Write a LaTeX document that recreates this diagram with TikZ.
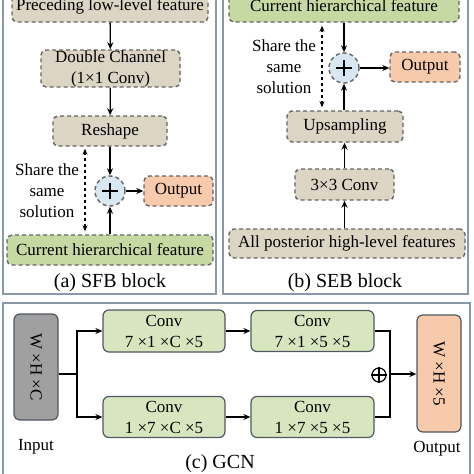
\documentclass[tikz,border=0pt]{standalone}
\usepackage{fontspec}
\setmainfont{Liberation Serif}
\usetikzlibrary{arrows.meta}
\definecolor{beige}{RGB}{221,213,196}
\definecolor{leaf}{RGB}{198,217,163}
\definecolor{salmon}{RGB}{248,202,172}
\definecolor{pale}{RGB}{216,232,242}
\definecolor{dashgray}{RGB}{100,100,100}
\definecolor{frame}{RGB}{138,152,172}
\definecolor{convgreen}{RGB}{216,230,192}
\definecolor{inpgray}{RGB}{160,160,160}
\definecolor{edgedark}{RGB}{80,88,96}
\tikzset{
  txt/.style={font=\fontsize{17}{21}\selectfont, align=center, inner sep=0pt},
  dbox/.style={txt, draw=dashgray, line width=1.4pt, dash pattern=on 4pt off 3pt, rounded corners=5pt},
  beigebox/.style={dbox, fill=beige},
  greenbox/.style={dbox, fill=leaf},
  outbox/.style={dbox, fill=salmon},
  sumnode/.style={circle, draw=dashgray, fill=pale, line width=1.4pt, dash pattern=on 4pt off 3pt, minimum size=30pt, inner sep=0pt},
  plusbar/.style={line width=1.6pt},
  sbox/.style={txt, draw=edgedark, line width=1.2pt, rounded corners=6pt},
  arr/.style={line width=1.3pt, -{Stealth[length=7pt,width=6pt]}},
  darr/.style={line width=1.2pt, dashed, {Stealth[length=6pt,width=5pt]}-{Stealth[length=6pt,width=5pt]}},
  plainline/.style={line width=1.3pt},
  panel/.style={draw=frame, line width=1.5pt},
  captext/.style={font=\fontsize{20}{24}\selectfont, inner sep=0pt},
}
\begin{document}
\begin{tikzpicture}[x=1pt,y=-1pt]
\useasboundingbox (0,0) rectangle (474,474);
\fill[white] (0,0) rectangle (474,474);
% panels
\draw[panel] (3,-5) rectangle (216,294);
\draw[panel] (223,-5) rectangle (468,294);
\draw[panel] (3,303) rectangle (470,480);

% ---------- (a) SFB ----------
\node[beigebox, minimum width=196pt, minimum height=32pt] (pre) at (110,6) {\raisebox{-4pt}{Preceding low-level feature}};
\node[beigebox, minimum width=139pt, minimum height=37pt] (dc) at (110.5,68.5) {Double Channel\\(1×1 Conv)};
\node[beigebox, minimum width=114pt, minimum height=30pt] (rs) at (110,131) {Reshape};
\node[sumnode] (sa) at (110,191) {};
\draw[plusbar] ([xshift=-8pt]sa.center) -- ([xshift=8pt]sa.center) ([yshift=-8pt]sa.center) -- ([yshift=8pt]sa.center);
\node[outbox, minimum width=69pt, minimum height=30pt] (oa) at (178.5,191) {Output};
\node[greenbox, minimum width=206pt, minimum height=30pt] (ca) at (110,250) {Current hierarchical feature};
\node[txt] (sha) at (47,191) {Share the\\same\\solution};
\coordinate (xa) at (85,0);
\coordinate (dat) at (rs.south -| xa);
\coordinate (dab) at (ca.north -| xa);
\draw[arr] (pre) -- (dc);
\draw[arr] (dc) -- (rs);
\draw[arr] (rs) -- (sa);
\draw[arr] (ca) -- (sa);
\draw[arr] (sa) -- (oa);
\draw[darr] ([yshift=-2pt]dat) -- ([yshift=3pt]dab);
\node[captext] (capa) at (110,283) {(a) SFB block};

% ---------- (b) SEB ----------
\node[greenbox, minimum width=230pt, minimum height=32pt] (cb) at (344,6) {\raisebox{-3pt}{Current hierarchical feature}};
\node[sumnode] (sb) at (344,68) {};
\draw[plusbar] ([xshift=-8pt]sb.center) -- ([xshift=8pt]sb.center) ([yshift=-8pt]sb.center) -- ([yshift=8pt]sb.center);
\node[outbox, minimum width=70pt, minimum height=30pt] (ob) at (425,67) {Output};
\node[beigebox, minimum width=116pt, minimum height=31pt] (up) at (345,126.5) {Upsampling};
\node[beigebox, minimum width=99pt, minimum height=31pt] (c33) at (344.5,184.5) {3×3 Conv};
\node[beigebox, minimum width=236pt, minimum height=29pt] (ap) at (347,243.5) {All posterior high-level features};
\node[txt] (shb) at (284,67) {Share the\\same\\solution};
\coordinate (xb) at (322,0);
\coordinate (dbt) at (cb.south -| xb);
\coordinate (dbb) at (up.north -| xb);
\draw[arr] (cb.south -| sb) -- (sb);
\draw[arr] (up.north -| sb) -- (sb);
\draw[arr] (sb) -- (sb -| ob.west);
\draw[arr] (c33) -- (c33 |- up.south);
\draw[arr] (ap.north -| c33) -- (c33);
\draw[darr] ([yshift=-3pt]dbt) -- ([yshift=3pt]dbb);
\node[captext] (capb) at (345,283) {(b) SEB block};

% ---------- (c) GCN ----------
\node[sbox, fill=inpgray, minimum width=44pt, minimum height=106pt] (inp) at (36,367) {\rotatebox{-90}{W ×H ×C}};
\node[txt] (inl) at (36,447) {Input};
\node[sbox, fill=convgreen, minimum width=122pt, minimum height=42pt] (c1) at (164,331) {Conv\\7 ×1 ×C ×5};
\node[sbox, fill=convgreen, minimum width=122pt, minimum height=41pt] (c2) at (164,417) {Conv\\1 ×7 ×C ×5};
\node[sbox, fill=convgreen, minimum width=123pt, minimum height=41pt] (c3) at (312.5,331) {Conv\\7 ×1 ×5 ×5};
\node[sbox, fill=convgreen, minimum width=123pt, minimum height=41pt] (c4) at (312.5,417) {Conv\\1 ×7 ×5 ×5};
\node[sbox, fill=salmon, minimum width=44pt, minimum height=117pt] (oc) at (439,373.5) {\rotatebox{-90}{W ×H ×5}};
\node[txt] (outl) at (437,449) {Output};
\node[circle, draw, line width=1.2pt, minimum size=14pt, inner sep=0pt] (plus) at (379,375) {};
\draw[line width=1.2pt] (plus.north) -- (plus.south) (plus.west) -- (plus.east);
\coordinate (br) at (77,374);
\coordinate (jn) at (390,374);
\draw[plainline] (inp.east |- br) -- (br);
\draw[arr] (br) |- (c1.west);
\draw[arr] (br) |- (c2.west);
\draw[arr] (c1) -- (c3);
\draw[arr] (c2) -- (c4);
\draw[plainline] (c3.east) -| (jn);
\draw[plainline] (c4.east) -| (jn);
\draw[arr] (jn) -- (jn -| oc.west);
\node[captext] (capc) at (220,464) {(c) GCN};
\end{tikzpicture}
\end{document}
